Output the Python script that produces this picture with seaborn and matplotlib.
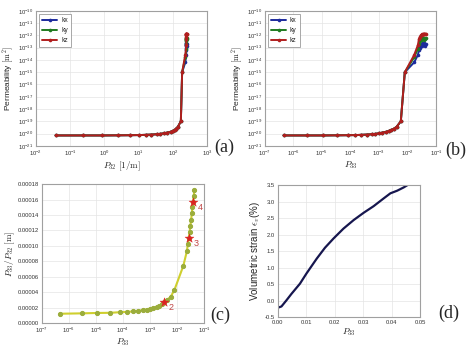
import math
import matplotlib
matplotlib.use("Agg")
import matplotlib.pyplot as plt
import seaborn as sns
import pandas as pd
from matplotlib.ticker import NullLocator, FixedLocator, FormatStrFormatter

# ---------------------------------------------------------------- data
# fracture intensity P33 (volumetric) for each loading step
p33 = [4.5e-7, 3.0e-6, 1.1e-5, 3.3e-5, 8.0e-5, 1.45e-4, 2.4e-4, 3.7e-4,
       5.7e-4, 7.5e-4, 1.0e-3, 1.3e-3, 1.8e-3, 2.2e-3, 2.7e-3, 3.3e-3,
       4.1e-3, 5.8e-3, 8.0e-3, 1.7e-2, 2.3e-2, 2.5e-2, 2.7e-2, 2.9e-2,
       3.1e-2, 3.3e-2, 3.5e-2, 3.7e-2, 3.9e-2, 4.1e-2, 4.4e-2]
# fracture intensity P32 [1/m] for the same steps
p32 = [0.0375, 0.24, 0.846, 2.5, 5.71, 10.0, 16.0, 23.4,
       33.9, 42.9, 54.9, 67.7, 85.7, 97.8, 112.5, 122.2,
       139.0, 170.6, 186.0, 229.7, 247.3, 245.0, 245.5, 245.8,
       246.0, 248.0, 246.5, 246.7, 248.4, 250.0, 255.8]

# permeability components [m^2]
k_low = [7.08e-21, 7.08e-21, 7.08e-21, 7.24e-21, 7.41e-21, 7.59e-21, 7.94e-21,
         8.32e-21, 8.91e-21, 9.55e-21, 1.05e-20, 1.20e-20, 1.41e-20, 1.66e-20,
         2.0e-20, 2.5e-20, 3.5e-20, 1.0e-19, 1.0e-15]
kx = k_low + [6.3e-15, 2.5e-14, 6.3e-14, 1.0e-13, 1.6e-13, 2.0e-13,
              1.25e-13, 2.5e-13, 1.6e-13, 2.5e-13, 1.25e-13, 2.0e-13]
ky = k_low + [1.6e-14, 8.0e-14, 2.0e-13, 3.2e-13, 4.0e-13, 5.0e-13,
              5.0e-13, 6.3e-13, 4.0e-13, 6.3e-13, 5.0e-13, 6.3e-13]
kz = k_low + [2.5e-14, 1.6e-13, 5.0e-13, 8.0e-13, 1.0e-12, 1.1e-12,
              1.25e-12, 1.25e-12, 1.4e-12, 1.4e-12, 1.25e-12, 1.4e-12]

# highlighted steps in panel (c)
star_idx = [15, 22, 28]
star_labels = ["2", "3", "4"]

# volumetric strain curve
strain_p33 = [0.0, 0.0, 0.0013, 0.003, 0.0048, 0.0078, 0.0101, 0.0137, 0.0166,
              0.0196, 0.0231, 0.0267, 0.0302, 0.0337, 0.0373, 0.0396, 0.042,
              0.0443, 0.046]
strain_pct = [-0.05, -0.22, -0.18, 0.0, 0.2, 0.51, 0.82, 1.27, 1.6,
              1.88, 2.18, 2.44, 2.66, 2.86, 3.1, 3.25, 3.33,
              3.43, 3.52]

# ---------------------------------------------------------------- style
sns.set_style("whitegrid", {
    "axes.edgecolor": "#a0a0a0",
    "grid.color": "#e4e4e4",
    "axes.linewidth": 0.8,
})
plt.rcParams["font.family"] = ["Liberation Sans", "DejaVu Sans"]
plt.rcParams["mathtext.fontset"] = "cm"
plt.rcParams["xtick.color"] = "#333333"
plt.rcParams["ytick.color"] = "#333333"

TICK = 4.2
PANEL_FONT = dict(family=["Liberation Serif", "DejaVu Serif"], fontsize=13)

df = pd.DataFrame({"p33": p33, "p32": p32, "kx": kx, "ky": ky, "kz": kz})
df["ratio"] = df["p33"] / df["p32"]

fig = plt.figure(figsize=(4.74, 3.49), dpi=100)

comp_colors = {"kx": "#1c2a9c", "ky": "#1f7a1f", "kz": "#b01e1e"}


def style_axes(ax):
    ax.tick_params(axis="both", which="both", length=0, pad=2, labelsize=TICK)
    ax.grid(True, linewidth=0.5)
    for s in ax.spines.values():
        s.set_color("#a0a0a0")
        s.set_linewidth(0.8)


def perm_panel(rect, xcol, xlim, xlabel, letter, letter_xy):
    ax = fig.add_axes(rect)
    for comp in ["kx", "ky", "kz"]:
        sns.lineplot(data=df, x=xcol, y=comp, sort=False, estimator=None,
                     color=comp_colors[comp], marker="o", markersize=2.6,
                     markeredgewidth=0, linewidth=1.4, label=comp, ax=ax)
    ax.set_xscale("log")
    ax.set_yscale("log")
    ax.set_xlim(*xlim)
    ax.set_ylim(1e-21, 1e-10)
    lo, hi = round(math.log10(xlim[0])), round(math.log10(xlim[1]))
    ax.xaxis.set_major_locator(FixedLocator([10.0 ** e for e in range(lo, hi + 1)]))
    ax.yaxis.set_major_locator(FixedLocator([10.0 ** e for e in range(-21, -9)]))
    ax.xaxis.set_minor_locator(NullLocator())
    ax.yaxis.set_minor_locator(NullLocator())
    style_axes(ax)
    ax.set_xlabel(xlabel, fontsize=6.5, labelpad=1)
    ax.set_ylabel(r"Permeability $[\mathrm{m}^2]$", fontsize=6.0, labelpad=1)
    leg = ax.legend(loc="upper left", fontsize=4.8, frameon=True, fancybox=False,
                    edgecolor="#9a9a9a", framealpha=1, borderpad=0.45,
                    handlelength=2.2, labelspacing=0.45, handletextpad=0.6)
    leg.get_frame().set_linewidth(0.6)
    fig.text(letter_xy[0], letter_xy[1], letter, ha="center", va="center", **PANEL_FONT)
    return ax


# (a) permeability vs P32
perm_panel([0.076, 0.582, 0.361, 0.387], "p32", (1e-2, 1e3),
           r"$P_{32}\ [1/\mathrm{m}]$", "(a)", (224 / 474, 1 - 147 / 349))

# (b) permeability vs P33
perm_panel([0.559, 0.582, 0.361, 0.387], "p33", (1e-7, 1e-1),
           r"$P_{33}$", "(b)", (456 / 474, 1 - 150 / 349))

# (c) P33/P32 vs P33
axc = fig.add_axes([0.0886, 0.0745, 0.342, 0.398])
sns.lineplot(data=df, x="p33", y="ratio", sort=False, estimator=None,
             color="#cfcf2e", linewidth=1.5, marker="o", markersize=3,
             markerfacecolor="#9bad3c", markeredgecolor="#9bad3c", ax=axc)
stars = df.iloc[star_idx]
sns.scatterplot(x=stars["p33"], y=stars["ratio"], marker="*", s=45,
                color="#dd2222", edgecolor="#dd2222", linewidth=0.3, zorder=5, ax=axc)
for lab, (_, row) in zip(star_labels, stars.iterrows()):
    axc.annotate(lab, (row["p33"], row["ratio"]), xytext=(3.5, -6),
                 textcoords="offset points", color="#c04646", fontsize=6.5)
axc.set_xscale("log")
axc.set_xlim(1e-7, 1e-1)
axc.set_ylim(0, 0.00018)
axc.xaxis.set_major_locator(FixedLocator([10.0 ** e for e in range(-7, 0)]))
axc.xaxis.set_minor_locator(NullLocator())
axc.yaxis.set_major_locator(FixedLocator([i * 0.00002 for i in range(10)]))
axc.yaxis.set_major_formatter(FormatStrFormatter("%.5f"))
style_axes(axc)
axc.set_xlabel(r"$P_{33}$", fontsize=6.5, labelpad=1)
axc.set_ylabel(r"$P_{33}/P_{32}\ [\mathrm{m}]$", fontsize=6.5, labelpad=1)
fig.text(220 / 474, 1 - 315 / 349, "(c)", ha="center", va="center", **PANEL_FONT)

# (d) volumetric strain vs P33
axd = fig.add_axes([0.586, 0.0917, 0.300, 0.378])
sns.lineplot(x=strain_p33, y=strain_pct, sort=False, estimator=None,
             color="#16164e", linewidth=1.6, ax=axd)
axd.set_xlim(0, 0.05)
axd.set_ylim(-0.5, 3.5)
axd.xaxis.set_major_locator(FixedLocator([i * 0.01 for i in range(6)]))
axd.xaxis.set_major_formatter(FormatStrFormatter("%.2f"))
axd.yaxis.set_major_locator(FixedLocator([-0.5 + i * 0.5 for i in range(9)]))
axd.yaxis.set_major_formatter(FormatStrFormatter("%.1f"))
style_axes(axd)
axd.set_xlabel(r"$P_{33}$", fontsize=6.5, labelpad=1)
axd.set_ylabel(r"Volumetric strain $\epsilon_v$(%)", fontsize=7, labelpad=2)
fig.text(449 / 474, 1 - 313 / 349, "(d)", ha="center", va="center", **PANEL_FONT)

fig.savefig("out.png", dpi=100)
